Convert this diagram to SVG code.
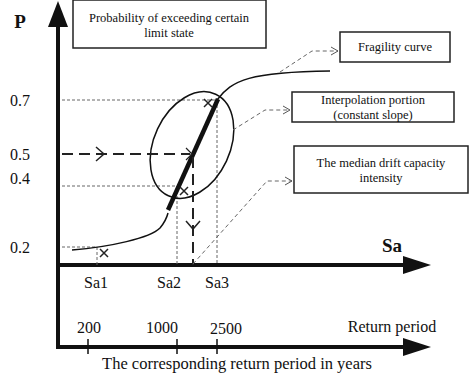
<svg xmlns="http://www.w3.org/2000/svg" width="474" height="374" viewBox="0 0 474 374">
<defs>
<style>
text{font-family:"Liberation Serif","Times New Roman",serif;fill:#111}
.lbl{font-size:16px}
.box{fill:#fff;stroke:#222;stroke-width:1.5}
.bt{font-size:12.5px;text-anchor:middle}
.ax{stroke:#111;stroke-width:4;fill:none}
.thin{stroke:#666;stroke-width:1;stroke-dasharray:3 2;fill:none}
.lead{stroke:#666;stroke-width:1;stroke-dasharray:4 3;fill:none}
.big{stroke:#222;stroke-width:2;stroke-dasharray:11 6;fill:none}
.x{stroke:#222;stroke-width:1.5;fill:none}
</style>
<marker id="open" markerWidth="10" markerHeight="10" refX="8" refY="5" orient="auto" markerUnits="userSpaceOnUse">
<path d="M1,1 L8,5 L1,9" fill="none" stroke="#555" stroke-width="1"/>
</marker>
</defs>

<g id="axes">
<path class="ax" d="M58,20 V347 H410"/>
<path class="ax" d="M58,265 H410"/>
<polygon points="58,1 48,27 68,27" fill="#111"/>
<polygon points="431,265 403,256 403,274" fill="#111"/>
<polygon points="431,347 403,338 403,356" fill="#111"/>
<path d="M88,339 V354 M177,339 V354 M217,339 V354" stroke="#111" stroke-width="1.5"/>
<text x="20" y="28" style="font-size:19px;font-weight:bold" text-anchor="middle">P</text>
<text x="392" y="252" style="font-size:19px;font-weight:bold" text-anchor="middle">Sa</text>
<text class="lbl" x="20" y="106" text-anchor="middle">0.7</text>
<text class="lbl" x="20" y="160" text-anchor="middle">0.5</text>
<text class="lbl" x="20" y="184" text-anchor="middle">0.4</text>
<text class="lbl" x="20" y="253" text-anchor="middle">0.2</text>
<text class="lbl" x="96" y="288" text-anchor="middle">Sa1</text>
<text class="lbl" x="169" y="288" text-anchor="middle">Sa2</text>
<text class="lbl" x="217" y="288" text-anchor="middle">Sa3</text>
<text class="lbl" x="89" y="333" text-anchor="middle">200</text>
<text class="lbl" x="162" y="333" text-anchor="middle">1000</text>
<text class="lbl" x="226" y="334" text-anchor="middle">2500</text>
<text class="lbl" x="392" y="332" text-anchor="middle">Return period</text>
<text x="237" y="369" style="font-size:16.5px" text-anchor="middle">The corresponding return period in years</text>
</g>

<g id="guides">
<path class="thin" d="M62,100 H217 V265"/>
<path class="thin" d="M62,186 H180 M177,186 V265"/>
<path class="thin" d="M62,247 H97 V265"/>
</g>

<g id="curve">
<path d="M72,250 C110,247 150,238 160,228 C165,222 167,217 168,213" fill="none" stroke="#111" stroke-width="1.5"/>
<path d="M168,210 L218,99" stroke="#111" stroke-width="4.5"/>
<path d="M217,100 C232,80 250,72 330,71" fill="none" stroke="#111" stroke-width="1.5"/>
<ellipse cx="192" cy="145" rx="56" ry="38" transform="rotate(-65 192 145)" fill="none" stroke="#111" stroke-width="1.5"/>
<path class="x" d="M204,99 L212,107 M212,99 L204,107"/>
<path class="x" d="M180,187 L188,195 M188,187 L180,195"/>
<path class="x" d="M100,249 L108,257 M108,249 L100,257"/>
</g>

<g id="connectors">
<path class="big" d="M62,154 H190"/>
<path d="M96,147 L104,154 L96,161" fill="none" stroke="#222" stroke-width="1.5"/>
<path d="M186,148 L192,154 L186,160" fill="none" stroke="#222" stroke-width="1.2"/>
<path class="big" d="M193,157 V265"/>
<path d="M186,221 L193,229 L200,221" fill="none" stroke="#222" stroke-width="1.5"/>
<path class="lead" d="M280,72 L312,51 H338" marker-end="url(#open)"/>
<path class="lead" d="M233,130 L265,110 H290" marker-end="url(#open)"/>
<path class="lead" d="M193,264 L267,181 H292" marker-end="url(#open)"/>
</g>

<g id="box-prob">
<rect class="box" x="73" y="0" width="193" height="48"/>
<text class="bt" x="169" y="22">Probability of exceeding certain</text>
<text class="bt" x="169" y="37">limit state</text>
</g>
<g id="box-fragility">
<rect class="box" x="340" y="32" width="110" height="30"/>
<text class="bt" x="395" y="51">Fragility curve</text>
</g>
<g id="box-interp">
<rect class="box" x="292" y="92" width="162" height="30"/>
<text class="bt" x="373" y="104">Interpolation portion</text>
<text class="bt" x="373" y="119">(constant slope)</text>
</g>
<g id="box-median">
<rect class="box" x="294" y="146" width="174" height="47"/>
<text class="bt" x="381" y="167">The median drift capacity</text>
<text class="bt" x="381" y="182">intensity</text>
</g>
</svg>
